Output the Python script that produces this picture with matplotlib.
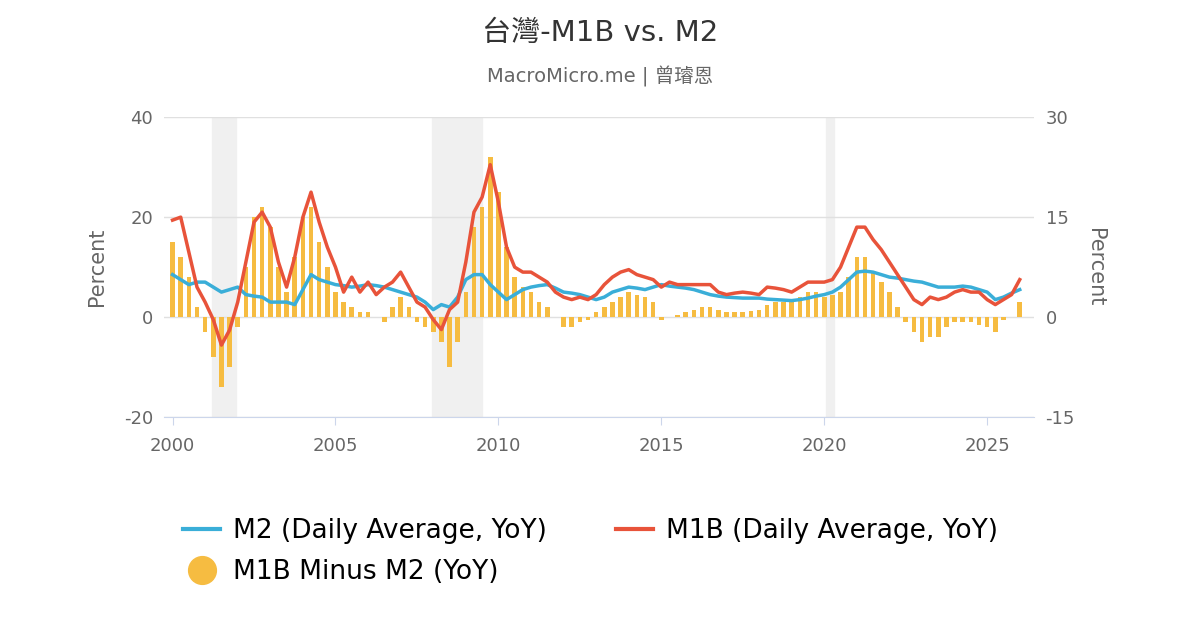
import numpy as np
import matplotlib.pyplot as plt
from matplotlib.lines import Line2D

plt.rcParams['font.family'] = ['DejaVu Sans', 'Noto Sans CJK TC']
plt.rcParams['axes.unicode_minus'] = False

# quarterly, 2000.00 .. 2026.00
years = 2000 + np.arange(105) * 0.25
m1b = [19.4, 20, 13, 6, 3, -0.5, -5.6, -2.6, 3, 11, 19, 21, 18, 11, 6, 12,
       20, 25, 19, 14, 10, 5, 8, 5, 7, 4.5, 6, 7, 9, 6, 3, 2,
       -0.5, -2.5, 1.5, 3, 11, 21, 24, 30.5, 23, 14, 10, 9, 9, 8, 7, 5,
       4, 3.5, 4, 3.5, 4.5, 6.5, 8, 9, 9.5, 8.5, 8, 7.5, 6, 7, 6.5, 6.5,
       6.5, 6.5, 6.5, 5, 4.5, 4.8, 5, 4.8, 4.5, 6, 5.8, 5.5, 5, 6, 7, 7,
       7, 7.5, 10, 14, 18, 18, 15.5, 13.5, 11, 8.5, 6, 3.5, 2.5, 4, 3.5, 4,
       5, 5.5, 5, 5, 3.5, 2.5, 3.5, 4.5, 7.5]
m2 = [8.5, 7.5, 6.5, 7, 7, 6, 5, 5.5, 6, 4.5, 4.2, 4, 3, 3, 3, 2.5,
      5.5, 8.5, 7.5, 7, 6.5, 6.3, 6, 6.2, 6.5, 6.3, 6, 5.5, 5, 4.5, 4, 3,
      1.5, 2.5, 2, 4, 7.5, 8.5, 8.5, 6.5, 5, 3.5, 4.5, 5.5, 6, 6.3, 6.5, 5.8,
      5, 4.8, 4.5, 4, 3.5, 4, 5, 5.5, 6, 5.8, 5.5, 6, 6.5, 6.2, 6, 5.8,
      5.5, 5, 4.5, 4.2, 4, 3.9, 3.8, 3.8, 3.8, 3.6, 3.5, 3.4, 3.3, 3.5, 3.8, 4.2,
      4.5, 5, 6, 7.5, 9, 9.2, 9, 8.5, 8, 7.8, 7.5, 7.2, 7, 6.5, 6, 6,
      6, 6.2, 6, 5.5, 5, 3.5, 4, 4.8, 5.5]
diff = [15, 12, 8, 2, -3, -8, -14, -10, -2, 10, 20, 22, 18, 10, 5, 12,
        20, 22, 15, 10, 5, 3, 2, 1, 1, 0, -1, 2, 4, 2, -1, -2,
        -3, -5, -10, -5, 5, 18, 22, 32, 25, 14, 8, 6, 5, 3, 2, 0,
        -2, -2, -1, -0.5, 1, 2, 3, 4, 5, 4.5, 4, 3, -0.5, 0, 0.5, 1,
        1.5, 2, 2, 1.5, 1, 1, 1, 1.2, 1.5, 2.5, 3, 3, 3, 4, 5, 5,
        4, 4.5, 5, 8, 12, 12, 9, 7, 5, 2, -1, -3, -5, -4, -4, -2,
        -1, -1, -1, -1.5, -2, -3, -0.5, 0, 3]
recessions = [(2001.2, 2001.95), (2007.95, 2009.5), (2020.05, 2020.3)]

fig = plt.figure(figsize=(12, 6.3), dpi=100)
ax = fig.add_axes([0.137, 0.338, 0.725, 0.476])
for a, b in recessions:
    ax.axvspan(a, b, color='#f0f0f0', zorder=0)
ax.bar(years, diff, width=0.14, color='#f6bc41', zorder=2)
ax.plot(years, m2, color='#3aaed8', lw=2.5, zorder=3)
ax.plot(years, m1b, color='#e8533a', lw=2.5, zorder=4)

ax.set_xlim(1999.75, 2026.45)
ax.set_ylim(-20, 40)
ax.set_yticks([-20, 0, 20, 40])
ax.set_xticks([2000, 2005, 2010, 2015, 2020, 2025])
ax.grid(axis='y', color='#e0e0e0', lw=1)
ax.set_axisbelow(True)
for s in ['top', 'right', 'left']:
    ax.spines[s].set_visible(False)
ax.spines['bottom'].set_color('#ccd6eb')
ax.tick_params(axis='both', length=0, labelsize=13, colors='#666666', pad=8)
ax.tick_params(axis='x', length=6, color='#ccd6eb')
ax.set_ylabel('Percent', fontsize=15, color='#666666', labelpad=12)

ax2 = ax.twinx()
ax2.set_ylim(-15, 30)
ax2.set_yticks([-15, 0, 15, 30])
for s in ax2.spines.values():
    s.set_visible(False)
ax2.tick_params(length=0, labelsize=13, colors='#666666', pad=8)
ax2.set_ylabel('Percent', fontsize=15, color='#666666', rotation=270, labelpad=22)

fig.text(0.5, 0.948, '台灣-M1B vs. M2', ha='center', va='center', fontsize=21, color='#333333')
fig.text(0.5, 0.878, 'MacroMicro.me | 曾璿恩', ha='center', va='center', fontsize=14, color='#666666')

handles = [Line2D([], [], color='#3aaed8', lw=3),
           Line2D([], [], marker='o', ls='', markersize=20, color='#f6bc41'),
           Line2D([], [], color='#e8533a', lw=3)]
labels = ['M2 (Daily Average, YoY)', 'M1B Minus M2 (YoY)', 'M1B (Daily Average, YoY)']
fig.legend(handles, labels, loc='upper left', bbox_to_anchor=(0.133, 0.215), ncol=2,
           frameon=False, fontsize=19, handlelength=1.4, columnspacing=2.6,
           handletextpad=0.5, labelspacing=0.55)

fig.savefig('out.png')
